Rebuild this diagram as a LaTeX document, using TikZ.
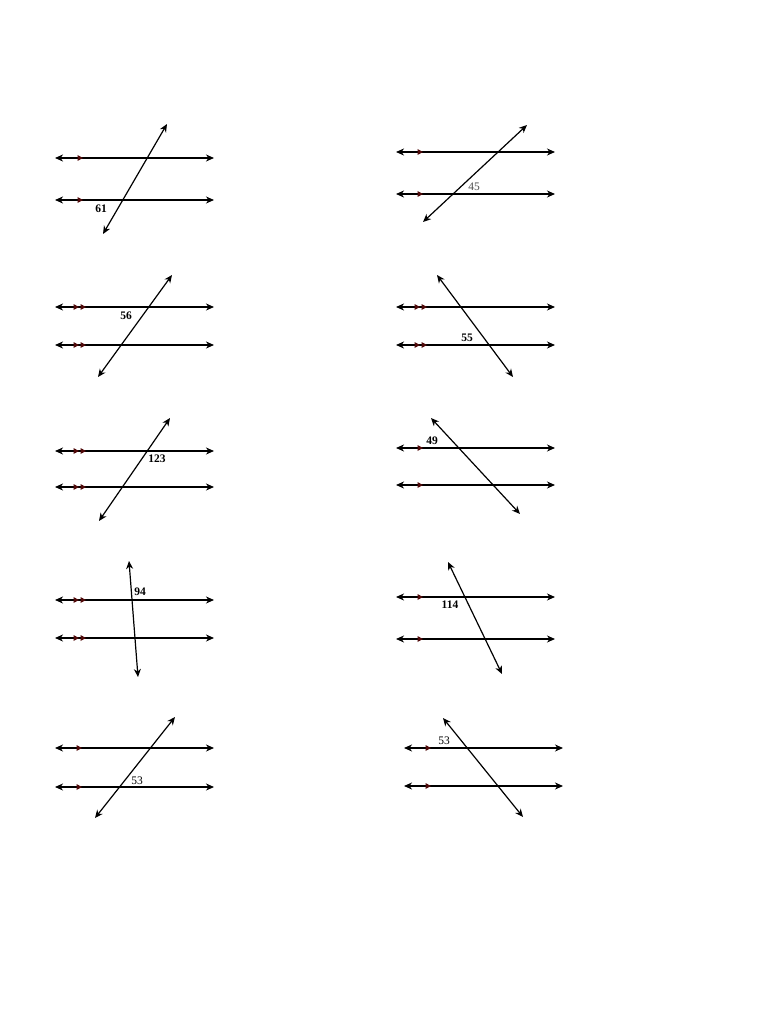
\documentclass[tikz,border=0pt]{standalone}
\usepackage{fontspec}
\setmainfont{Liberation Serif}
\usetikzlibrary{arrows.meta}
\definecolor{markred}{RGB}{80,10,10}
\tikzset{
  rayline/.style={{Stealth[length=8pt,width=7pt,inset=2.5pt]}-{Stealth[length=8pt,width=7pt,inset=2.5pt]}, line width=1.2pt},
  pmark/.style={fill=markred},
  lbl/.style={font=\fontsize{11.5}{12}\selectfont\bfseries, inner sep=0pt},
  lblthin/.style={font=\fontsize{11.5}{12}\selectfont, inner sep=0pt}
}
\begin{document}
\begin{tikzpicture}[x=1pt,y=-1pt]
  \useasboundingbox (0,0) rectangle (768,1024);
  % 61
  \draw[rayline] (55,158) coordinate (aU1) -- (214,158) coordinate (aU2);
  \draw[rayline] (55,200) coordinate (aL1) -- (214,200) coordinate (aL2);
  \draw[rayline] (103,234) coordinate (aT1) -- (167,124) coordinate (aT2);
  \fill[pmark] (80,158) ++(-2.5,-3) -- ++(5.5,3) -- ++(-5.5,3) -- cycle;
  \fill[pmark] (80,200) ++(-2.5,-3) -- ++(5.5,3) -- ++(-5.5,3) -- cycle;
  \node[lbl] (a) at (101,209) {61};
  % 45
  \draw[rayline] (396,152) coordinate (bU1) -- (555,152) coordinate (bU2);
  \draw[rayline] (396,194) coordinate (bL1) -- (555,194) coordinate (bL2);
  \draw[rayline] (423,222) coordinate (bT1) -- (527,125) coordinate (bT2);
  \fill[pmark] (420,152) ++(-2.5,-3) -- ++(5.5,3) -- ++(-5.5,3) -- cycle;
  \fill[pmark] (420,194) ++(-2.5,-3) -- ++(5.5,3) -- ++(-5.5,3) -- cycle;
  \node[lblthin, text=black!70] (b) at (474,187) {45};
  % 56
  \draw[rayline] (55,307) coordinate (cU1) -- (214,307) coordinate (cU2);
  \draw[rayline] (55,345) coordinate (cL1) -- (214,345) coordinate (cL2);
  \draw[rayline] (98,377) coordinate (cT1) -- (172,275) coordinate (cT2);
  \fill[pmark] (76,307) ++(-2.5,-3) -- ++(5.5,3) -- ++(-5.5,3) -- cycle;
  \fill[pmark] (83,307) ++(-2.5,-3) -- ++(5.5,3) -- ++(-5.5,3) -- cycle;
  \fill[pmark] (76,345) ++(-2.5,-3) -- ++(5.5,3) -- ++(-5.5,3) -- cycle;
  \fill[pmark] (83,345) ++(-2.5,-3) -- ++(5.5,3) -- ++(-5.5,3) -- cycle;
  \node[lbl] (c) at (126,316) {56};
  % 55
  \draw[rayline] (396,307) coordinate (dU1) -- (555,307) coordinate (dU2);
  \draw[rayline] (396,345) coordinate (dL1) -- (555,345) coordinate (dL2);
  \draw[rayline] (437,275) coordinate (dT1) -- (513,377) coordinate (dT2);
  \fill[pmark] (417,307) ++(-2.5,-3) -- ++(5.5,3) -- ++(-5.5,3) -- cycle;
  \fill[pmark] (424,307) ++(-2.5,-3) -- ++(5.5,3) -- ++(-5.5,3) -- cycle;
  \fill[pmark] (417,345) ++(-2.5,-3) -- ++(5.5,3) -- ++(-5.5,3) -- cycle;
  \fill[pmark] (424,345) ++(-2.5,-3) -- ++(5.5,3) -- ++(-5.5,3) -- cycle;
  \node[lbl] (d) at (467,338) {55};
  % 123
  \draw[rayline] (55,451) coordinate (eU1) -- (214,451) coordinate (eU2);
  \draw[rayline] (55,487) coordinate (eL1) -- (214,487) coordinate (eL2);
  \draw[rayline] (99,521) coordinate (eT1) -- (170,418) coordinate (eT2);
  \fill[pmark] (76,451) ++(-2.5,-3) -- ++(5.5,3) -- ++(-5.5,3) -- cycle;
  \fill[pmark] (83,451) ++(-2.5,-3) -- ++(5.5,3) -- ++(-5.5,3) -- cycle;
  \fill[pmark] (76,487) ++(-2.5,-3) -- ++(5.5,3) -- ++(-5.5,3) -- cycle;
  \fill[pmark] (83,487) ++(-2.5,-3) -- ++(5.5,3) -- ++(-5.5,3) -- cycle;
  \node[lbl] (e) at (157,459) {123};
  % 49
  \draw[rayline] (396,448) coordinate (fU1) -- (555,448) coordinate (fU2);
  \draw[rayline] (396,485) coordinate (fL1) -- (555,485) coordinate (fL2);
  \draw[rayline] (431,418) coordinate (fT1) -- (520,514) coordinate (fT2);
  \fill[pmark] (420,448) ++(-2.5,-3) -- ++(5.5,3) -- ++(-5.5,3) -- cycle;
  \fill[pmark] (420,485) ++(-2.5,-3) -- ++(5.5,3) -- ++(-5.5,3) -- cycle;
  \node[lbl] (f) at (432,441) {49};
  % 94
  \draw[rayline] (55,600) coordinate (gU1) -- (214,600) coordinate (gU2);
  \draw[rayline] (55,638) coordinate (gL1) -- (214,638) coordinate (gL2);
  \draw[rayline] (138,677) coordinate (gT1) -- (129,561) coordinate (gT2);
  \fill[pmark] (76,600) ++(-2.5,-3) -- ++(5.5,3) -- ++(-5.5,3) -- cycle;
  \fill[pmark] (83,600) ++(-2.5,-3) -- ++(5.5,3) -- ++(-5.5,3) -- cycle;
  \fill[pmark] (76,638) ++(-2.5,-3) -- ++(5.5,3) -- ++(-5.5,3) -- cycle;
  \fill[pmark] (83,638) ++(-2.5,-3) -- ++(5.5,3) -- ++(-5.5,3) -- cycle;
  \node[lbl] (g) at (140,592) {94};
  % 114
  \draw[rayline] (396,597) coordinate (hU1) -- (555,597) coordinate (hU2);
  \draw[rayline] (396,639) coordinate (hL1) -- (555,639) coordinate (hL2);
  \draw[rayline] (448,562) coordinate (hT1) -- (502,674) coordinate (hT2);
  \fill[pmark] (420,597) ++(-2.5,-3) -- ++(5.5,3) -- ++(-5.5,3) -- cycle;
  \fill[pmark] (420,639) ++(-2.5,-3) -- ++(5.5,3) -- ++(-5.5,3) -- cycle;
  \node[lbl] (h) at (450,605) {114};
  % 53 (left)
  \draw[rayline] (55,748) coordinate (iU1) -- (214,748) coordinate (iU2);
  \draw[rayline] (55,787) coordinate (iL1) -- (214,787) coordinate (iL2);
  \draw[rayline] (95,818) coordinate (iT1) -- (175,717) coordinate (iT2);
  \fill[pmark] (79,748) ++(-2.5,-3) -- ++(5.5,3) -- ++(-5.5,3) -- cycle;
  \fill[pmark] (79,787) ++(-2.5,-3) -- ++(5.5,3) -- ++(-5.5,3) -- cycle;
  \node[lblthin] (i) at (137,781) {53};
  % 53 (right)
  \draw[rayline] (404,748) coordinate (jU1) -- (563,748) coordinate (jU2);
  \draw[rayline] (404,786) coordinate (jL1) -- (563,786) coordinate (jL2);
  \draw[rayline] (443,718) coordinate (jT1) -- (523,817) coordinate (jT2);
  \fill[pmark] (428,748) ++(-2.5,-3) -- ++(5.5,3) -- ++(-5.5,3) -- cycle;
  \fill[pmark] (428,786) ++(-2.5,-3) -- ++(5.5,3) -- ++(-5.5,3) -- cycle;
  \node[lblthin] (j) at (444,741) {53};
\end{tikzpicture}
\end{document}
